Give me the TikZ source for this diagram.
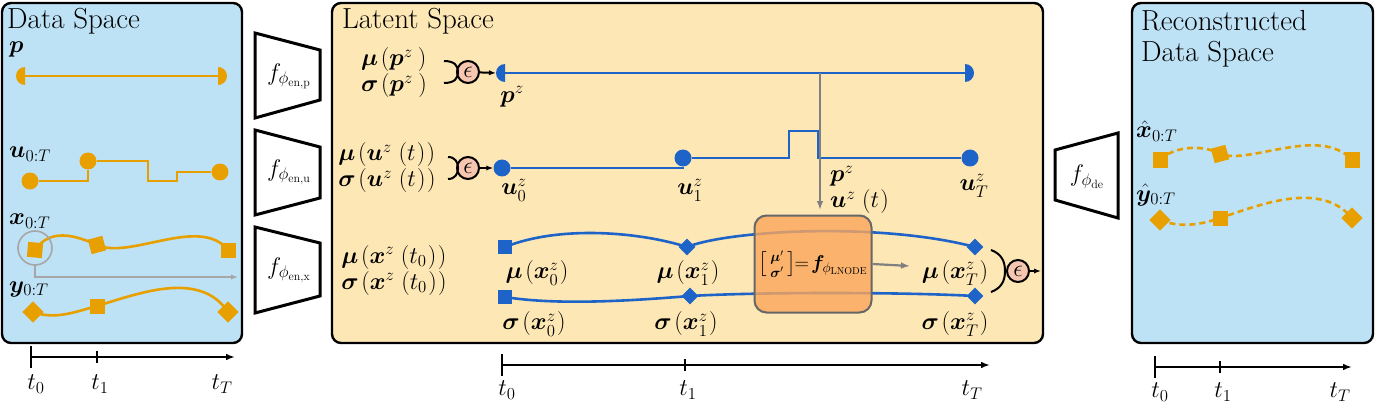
\documentclass[tikz,border=0pt]{standalone}
\usepackage{fix-cm}
\usepackage{amsmath,bm}
\usetikzlibrary{arrows.meta,shapes.geometric}
\definecolor{dblue}{RGB}{190,226,245}
\definecolor{lorange}{RGB}{253,231,181}
\definecolor{dor}{RGB}{232,160,0}
\definecolor{lb}{RGB}{30,100,200}
\definecolor{eps}{RGB}{246,198,176}
\definecolor{nodeor}{RGB}{250,165,90}
\newcommand\ttlfont{\fontsize{29}{31}\selectfont}
\newcommand\mlfont{\fontsize{24}{26}\selectfont}
\newcommand\zs{^{z}\,}
\newcommand\lp{\mkern2mu(}
\newcommand\rp{\mkern1mu)}
\begin{document}
\begin{tikzpicture}[x=1pt,y=-1pt,
 panel/.style={draw=black,line width=2.4pt,rounded corners=9pt},
 ttl/.style={anchor=north west,inner sep=0pt,font=\ttlfont},
 ml/.style={inner sep=0pt,font=\mlfont},
 enc/.style={draw=black,line width=3pt,fill=white},
 ol/.style={dor,line width=2.6pt},
 bl/.style={lb,line width=2.6pt},
 sq/.style={fill=dor,minimum size=15pt,inner sep=0pt,rectangle},
 dm/.style={fill=dor,minimum size=15pt,inner sep=0pt,rectangle,rotate=45},
 bsq/.style={fill=lb,minimum size=14pt,inner sep=0pt,rectangle},
 bdm/.style={fill=lb,minimum size=17pt,inner sep=0pt,diamond},
 dot/.style={circle,inner sep=0pt,minimum size=17pt},
 ep/.style={circle,draw=black,line width=2pt,fill=eps,inner sep=0pt,minimum size=22pt,font=\fontsize{24}{24}\selectfont},
 ax/.style={line width=2.6pt,-{Latex[length=9pt]}},
 ga/.style={gray,line width=2.2pt,-{Latex[length=9pt]}}]
\useasboundingbox (0,0) rectangle (1376,409);
% panels
\draw[panel,fill=dblue] (2,3) rectangle (242,343);
\draw[panel,fill=lorange] (332,3) rectangle (1043,343);
\draw[panel,fill=dblue] (1132,3) rectangle (1373,343);
\node[ttl] (t1) at (7,8) {Data Space};
\node[ttl] (t2) at (342,8) {Latent Space};
\node[ttl,align=left] (t3) at (1141,10) {Reconstructed\\Data Space};
% encoders
\draw[enc] (255,33) -- (320,50) -- (320,100) -- (255,118) -- cycle;
\draw[enc] (255,130) -- (320,147) -- (320,198) -- (255,215) -- cycle;
\draw[enc] (255,227) -- (320,243) -- (320,296) -- (255,313) -- cycle;
\draw[enc] (1055,150) -- (1118,133) -- (1118,218) -- (1055,200) -- cycle;
\node[ml] (ep1) at (289,76) {$f_{\phi_{\text{en,p}}}$};
\node[ml] (ep2) at (289,172) {$f_{\phi_{\text{en,u}}}$};
\node[ml] (ep3) at (289,270) {$f_{\phi_{\text{en,x}}}$};
\node[ml] (dec) at (1087,177) {$f_{\phi_{\text{de}}}$};
% ---- data space
\node[ml,anchor=west] (lp) at (9,50) {$\bm{p}$};
\draw[ol] (25,76) -- (218,76);
\fill[dor] (25,67) arc (-90:-270:9) -- cycle;
\fill[dor] (218,67) arc (-90:90:9) -- cycle;
\node[ml,anchor=west] (lu) at (9,154) {$\bm{u}_{0:T}$};
\node[dot,fill=dor] (u0) at (30,181) {};
\node[dot,fill=dor] (u1) at (88,161) {};
\node[dot,fill=dor] (u2) at (220,172) {};
\draw[ol] (u0) -- (88,181) -- (u1) -- (148,161) -- (148,181) -- (177,181) -- (177,172) -- (u2);
\node[ml,anchor=west] (lx) at (9,221) {$\bm{x}_{0:T}$};
\draw[ol] (35,250) .. controls (50,228) and (75,235) .. (97,245) .. controls (130,260) and (200,215) .. (228,250);
\node[sq,rotate=-5] (x0) at (35,250) {};
\node[sq,rotate=15] (x1) at (97,245) {};
\node[sq] (x2) at (228,250) {};
\draw[gray!70,line width=1.6pt] (35,248) circle (17);
\draw[gray!70,line width=1.8pt,-{Latex[length=7pt]}] (35,265) -- (35,277) -- (238,277);
\node[ml,anchor=west] (ly) at (9,289) {$\bm{y}_{0:T}$};
\draw[ol] (33,312) .. controls (55,320) and (75,312) .. (97,306) .. controls (140,293) and (200,270) .. (228,312);
\node[dm] (y0) at (33,312) {};
\node[sq] (y1) at (97,306) {};
\node[dm] (y2) at (228,312) {};
% ---- latent
\node[ml,align=left] (mp) at (394,73) {$\bm{\mu}\lp\bm{p}\zs\rp$\\$\bm{\sigma}\lp\bm{p}\zs\rp$};
\node[ep] (e1) at (468,72) {$\epsilon$};
\draw[line width=2pt] (444,61) .. controls (455,61) and (458,66) .. (458,72) .. controls (458,78) and (455,83) .. (444,83);
\coordinate (pz0) at (496,73);
\draw[line width=2pt,-{Latex[length=7pt]}] (e1) -- (pz0);
\draw[bl] (505,73) -- (965,73);
\fill[lb] (505,64) arc (-90:-270:9) -- cycle;
\fill[lb] (965,64) arc (-90:90:9) -- cycle;
\node[ml] (pzl) at (512,97) {$\bm{p}^z$};
\node[ml,align=left] (mu) at (387,168) {$\bm{\mu}\lp\bm{u}\zs\lp t\rp\rp$\\$\bm{\sigma}\lp\bm{u}\zs\lp t\rp\rp$};
\node[ep] (e2) at (468,168) {$\epsilon$};
\draw[line width=2pt] (448,157) .. controls (455,157) and (458,162) .. (458,168) .. controls (458,174) and (455,179) .. (448,179);
\node[dot,fill=lb] (bu0) at (502,168) {};
\node[dot,fill=lb] (bu1) at (683,158) {};
\node[dot,fill=lb] (bu2) at (970,158) {};
\draw[line width=2pt,-{Latex[length=7pt]}] (e2) -- (bu0);
\draw[bl] (bu0) -- (683,168) -- (bu1) -- (789,158) -- (789,131) -- (818,131) -- (818,158) -- (bu2);
\node[ml] (lu0) at (514,190) {$\bm{u}_0^z$};
\node[ml] (lu1) at (690,190) {$\bm{u}_1^z$};
\node[ml] (lu2) at (974,186) {$\bm{u}_T^z$};
\coordinate (gtop) at (820,73);
\node[ml,align=left,anchor=west] (pu) at (830,190) {$\bm{p}^z$\\$\bm{u}\zs\lp t\rp$};
\draw[ga] (gtop) -- (820,210);
\node[ml,align=left] (mx) at (394,270) {$\bm{\mu}\lp\bm{x}\zs\lp t_0\rp\rp$\\$\bm{\sigma}\lp\bm{x}\zs\lp t_0\rp\rp$};
\draw[bl] (505,247) .. controls (560,225) and (640,232) .. (687,247) .. controls (730,230) and (880,222) .. (975,247);
\draw[bl] (505,297) .. controls (560,306) and (640,300) .. (690,296) .. controls (760,292) and (900,292) .. (975,296);
\node[bsq] (m0) at (505,247) {};
\node[bsq] (s0) at (505,297) {};
\node[bdm] (m1) at (687,247) {};
\node[bdm] (s1) at (690,296) {};
\node[bdm] (m2) at (975,247) {};
\node[bdm] (s2) at (975,296) {};
\node[ml] (lm0) at (537,273) {$\bm{\mu}\lp\bm{x}_0^z\rp$};
\node[ml] (lm1) at (688,273) {$\bm{\mu}\lp\bm{x}_1^z\rp$};
\node[ml] (lm2) at (955,273) {$\bm{\mu}\lp\bm{x}_T^z\rp$};
\node[ml] (ls0) at (534,324) {$\bm{\sigma}\lp\bm{x}_0^z\rp$};
\node[ml] (ls1) at (686,324) {$\bm{\sigma}\lp\bm{x}_1^z\rp$};
\node[ml] (ls2) at (955,324) {$\bm{\sigma}\lp\bm{x}_T^z\rp$};
\node[draw=gray!80!black,line width=2pt,fill=nodeor,fill opacity=0.8,text opacity=1,rounded corners=12pt,minimum width=117pt,minimum height=97pt,inner sep=0pt,font=\fontsize{20}{20}\selectfont] (ode) at (813,264) {$\left[\begin{smallmatrix}\bm{\mu}'\\ \bm{\sigma}'\end{smallmatrix}\right]\!\!=\!\bm{f}_{\phi_{\text{LNODE}}}$};
\draw[ga] (ode.east) -- (910,266);
\draw[line width=2pt] (991,250) .. controls (1002,254) and (1005,262) .. (1005,271) .. controls (1005,280) and (1002,288) .. (991,292);
\node[ep] (e3) at (1018,271) {$\epsilon$};
\coordinate (eo) at (1041,271);
\draw[line width=2pt,-{Latex[length=7pt]}] (e3) -- (eo);
% ---- recon
\node[ml,anchor=west] (lxh) at (1136,131) {$\hat{\bm{x}}_{0:T}$};
\draw[ol,dashed,dash pattern=on 6pt off 4pt] (1160,160) .. controls (1175,145) and (1205,145) .. (1220,154) .. controls (1250,165) and (1320,125) .. (1352,160);
\node[sq] (xh0) at (1160,160) {};
\node[sq,rotate=15] (xh1) at (1220,154) {};
\node[sq] (xh2) at (1352,160) {};
\node[ml,anchor=west] (lyh) at (1136,195) {$\hat{\bm{y}}_{0:T}$};
\draw[ol,dashed,dash pattern=on 6pt off 4pt] (1160,220) .. controls (1180,228) and (1200,225) .. (1220,218) .. controls (1260,205) and (1320,180) .. (1352,218);
\node[dm] (yh0) at (1160,220) {};
\node[sq] (yh1) at (1220,218) {};
\node[dm] (yh2) at (1352,218) {};
% ---- axes
\foreach \a/\b/\c/\d/\yy/\ly/\n in {31/97/235/222/357/384/A,502/685/990/972/365/390/B,1155/1220/1352/1340/367/392/C}{
 \coordinate (s\n) at (\a,\yy); \coordinate (e\n) at (\c,\yy);
 \draw[ax] (s\n) -- (e\n);
 \draw[line width=2.6pt] (\a,\yy-11) -- (\a,\yy+11);
 \draw[line width=1.6pt] (\b,\yy-6) -- (\b,\yy+6);
 \node[ml] (ta\n) at (\a+5,\ly) {$t_0$};
 \node[ml] (tb\n) at (\b+3,\ly) {$t_1$};
 \node[ml] (tc\n) at (\d,\ly) {$t_T$};
}
\end{tikzpicture}
\end{document}
